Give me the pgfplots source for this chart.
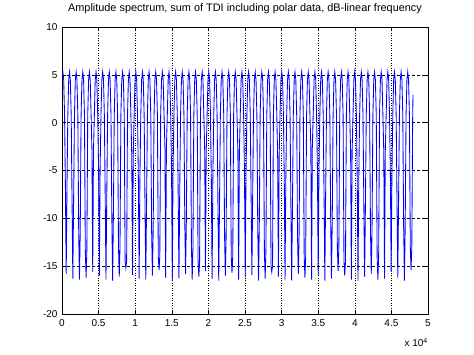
\documentclass[border=0pt]{standalone}
\usepackage{pgfplots}
\pgfplotsset{compat=1.18}
\usepackage{fontspec}
\setmainfont{Liberation Sans}
\begin{document}
\begin{tikzpicture}[x=1pt,y=1pt]
\useasboundingbox (0,0) rectangle (474,355);
\begin{axis}[
  name=ax,
  at={(62pt,41pt)}, anchor=south west,
  width=366pt, height=287pt, scale only axis,
  xmin=0, xmax=50000, ymin=-20, ymax=10,
  xtick={0,5000,10000,15000,20000,25000,30000,35000,40000,45000,50000},
  xticklabels={0,0.5,1,1.5,2,2.5,3,3.5,4,4.5,5},
  scaled x ticks=false,
  ytick={-20,-15,-10,-5,0,5,10},
  grid=major,
  x grid style={black, dash pattern=on 1pt off 1.5pt, line width=0.5pt},
  y grid style={black, dash pattern=on 2.5pt off 2.5pt, line width=0.5pt},
  tick align=inside, tick style={black, line width=0.5pt},
  major tick length=4pt,
  axis line style={black, line width=0.6pt},
  ticklabel style={font=\fontsize{10}{12}\selectfont},
  xticklabel style={yshift=-2pt},
  yticklabel style={xshift=-1pt},
  /pgf/number format/assume math mode=true,
  title={Amplitude spectrum, sum of TDI including polar data, dB-linear frequency},
  title style={at={(0.5,1)}, anchor=base, yshift=9pt, font=\fontsize{10.9}{13}\selectfont},
]
\addplot[color={rgb,1:red,0;green,0;blue,1}, line width=0.85pt] coordinates {
(0,4.9)
(120,5.3) (230,4.5) (350,0.8) (470,-7) (573,-15.8) (676,-7) (796,0.8) (916,4.5)
(1026,5.3) (1136,4.5) (1256,0.8) (1376,-8.5) (1479,-16.3) (1582,-8.5) (1702,0.8) (1822,4.5)
(1932,5.3) (2042,4.5) (2162,0.8) (2282,-11.5) (2385,-16.4) (2488,-11.5) (2608,0.8) (2728,4.5)
(2838,5.3) (2948,4.5) (3068,0.8) (3188,-13.5) (3291,-16.2) (3394,-13.5) (3514,0.8) (3634,4.5)
(3744,5.3) (3854,4.5) (3974,0.8) (4094,-3) (4197,-15.6) (4300,-3) (4420,0.8) (4540,4.5)
(4650,5.3) (4760,4.5) (4880,0.8) (5000,-5) (5103,-16.0) (5206,-5) (5326,0.8) (5446,4.5)
(5556,5.3) (5666,4.5) (5786,0.8) (5906,-8) (6009,-16.4) (6112,-8) (6232,0.8) (6352,4.5)
(6462,5.3) (6572,4.5) (6692,0.8) (6812,-10) (6915,-16.5) (7018,-10) (7138,0.8) (7258,4.5)
(7368,5.3) (7478,4.5) (7598,0.8) (7718,-13) (7821,-16.1) (7924,-13) (8044,0.8) (8164,4.5)
(8274,5.3) (8384,4.5) (8504,0.8) (8624,-14.5) (8727,-15.2) (8830,-14.5) (8950,0.8) (9070,4.5)
(9180,5.3) (9290,4.5) (9410,0.8) (9530,-3.5) (9633,-15.9) (9736,-3.5) (9856,0.8) (9976,4.5)
(10086,5.3) (10196,4.5) (10316,0.8) (10436,-6) (10539,-16.3) (10642,-6) (10762,0.8) (10882,4.5)
(10992,5.3) (11102,4.5) (11222,0.8) (11342,-9) (11445,-16.4) (11548,-9) (11668,0.8) (11788,4.5)
(11898,5.3) (12008,4.5) (12128,0.8) (12248,-11.5) (12351,-16.0) (12454,-11.5) (12574,0.8) (12694,4.5)
(12804,5.3) (12914,4.5) (13034,0.8) (13154,-14) (13257,-15.4) (13360,-14) (13480,0.8) (13600,4.5)
(13710,5.3) (13820,4.5) (13940,0.8) (14060,-2.5) (14163,-16.2) (14266,-2.5) (14386,0.8) (14506,4.5)
(14616,5.3) (14726,4.5) (14846,0.8) (14966,-5) (15069,-16.5) (15172,-5) (15292,0.8) (15412,4.5)
(15522,5.3) (15632,4.5) (15752,0.8) (15872,-7.5) (15975,-16.3) (16078,-7.5) (16198,0.8) (16318,4.5)
(16428,5.3) (16538,4.5) (16658,0.8) (16778,-10.5) (16881,-15.8) (16984,-10.5) (17104,0.8) (17224,4.5)
(17334,5.3) (17444,4.5) (17564,0.8) (17684,-13) (17787,-16.4) (17890,-13) (18010,0.8) (18130,4.5)
(18240,5.3) (18350,4.5) (18470,0.8) (18590,-14.5) (18693,-16.1) (18796,-14.5) (18916,0.8) (19036,4.5)
(19146,5.3) (19256,4.5) (19376,0.8) (19496,-3) (19599,-15.5) (19702,-3) (19822,0.8) (19942,4.5)
(20052,5.3) (20162,4.5) (20282,0.8) (20402,-6) (20505,-16.3) (20608,-6) (20728,0.8) (20848,4.5)
(20958,5.3) (21068,4.5) (21188,0.8) (21308,-9) (21411,-16.5) (21514,-9) (21634,0.8) (21754,4.5)
(21864,5.3) (21974,4.5) (22094,0.8) (22214,-12) (22317,-16.0) (22420,-12) (22540,0.8) (22660,4.5)
(22770,5.3) (22880,4.5) (23000,0.8) (23120,-14) (23223,-15.7) (23326,-14) (23446,0.8) (23566,4.5)
(23676,5.3) (23786,4.5) (23906,0.8) (24026,-3) (24129,-16.4) (24232,-3) (24352,0.8) (24472,4.5)
(24582,5.3) (24692,4.5) (24812,0.8) (24932,-5.5) (25035,-16.2) (25138,-5.5) (25258,0.8) (25378,4.5)
(25488,5.3) (25598,4.5) (25718,0.8) (25838,-8) (25941,-15.9) (26044,-8) (26164,0.8) (26284,4.5)
(26394,5.3) (26504,4.5) (26624,0.8) (26744,-11) (26847,-16.5) (26950,-11) (27070,0.8) (27190,4.5)
(27300,5.3) (27410,4.5) (27530,0.8) (27650,-13.5) (27753,-16.3) (27856,-13.5) (27976,0.8) (28096,4.5)
(28206,5.3) (28316,4.5) (28436,0.8) (28556,-15) (28659,-15.6) (28762,-15) (28882,0.8) (29002,4.5)
(29112,5.3) (29222,4.5) (29342,0.8) (29462,-3.5) (29565,-16.1) (29668,-3.5) (29788,0.8) (29908,4.5)
(30018,5.3) (30128,4.5) (30248,0.8) (30368,-6) (30471,-16.4) (30574,-6) (30694,0.8) (30814,4.5)
(30924,5.3) (31034,4.5) (31154,0.8) (31274,-9) (31377,-16.5) (31480,-9) (31600,0.8) (31720,4.5)
(31830,5.3) (31940,4.5) (32060,0.8) (32180,-12) (32283,-15.8) (32386,-12) (32506,0.8) (32626,4.5)
(32736,5.3) (32846,4.5) (32966,0.8) (33086,-14) (33189,-16.2) (33292,-14) (33412,0.8) (33532,4.5)
(33642,5.3) (33752,4.5) (33872,0.8) (33992,-2.5) (34095,-16.4) (34198,-2.5) (34318,0.8) (34438,4.5)
(34548,5.3) (34658,4.5) (34778,0.8) (34898,-5) (35001,-15.9) (35104,-5) (35224,0.8) (35344,4.5)
(35454,5.3) (35564,4.5) (35684,0.8) (35804,-8) (35907,-16.5) (36010,-8) (36130,0.8) (36250,4.5)
(36360,5.3) (36470,4.5) (36590,0.8) (36710,-10.5) (36813,-16.3) (36916,-10.5) (37036,0.8) (37156,4.5)
(37266,5.3) (37376,4.5) (37496,0.8) (37616,-13) (37719,-15.5) (37822,-13) (37942,0.8) (38062,4.5)
(38172,5.3) (38282,4.5) (38402,0.8) (38522,-14.5) (38625,-16.0) (38728,-14.5) (38848,0.8) (38968,4.5)
(39078,5.3) (39188,4.5) (39308,0.8) (39428,-3) (39531,-16.4) (39634,-3) (39754,0.8) (39874,4.5)
(39984,5.3) (40094,4.5) (40214,0.8) (40334,-6) (40437,-16.5) (40540,-6) (40660,0.8) (40780,4.5)
(40890,5.3) (41000,4.5) (41120,0.8) (41240,-9) (41343,-16.1) (41446,-9) (41566,0.8) (41686,4.5)
(41796,5.3) (41906,4.5) (42026,0.8) (42146,-11.5) (42249,-15.8) (42352,-11.5) (42472,0.8) (42592,4.5)
(42702,5.3) (42812,4.5) (42932,0.8) (43052,-14) (43155,-16.4) (43258,-14) (43378,0.8) (43498,4.5)
(43608,5.3) (43718,4.5) (43838,0.8) (43958,-3) (44061,-16.3) (44164,-3) (44284,0.8) (44404,4.5)
(44514,5.3) (44624,4.5) (44744,0.8) (44864,-5.5) (44967,-15.6) (45070,-5.5) (45190,0.8) (45310,4.5)
(45420,5.3) (45530,4.5) (45650,0.8) (45770,-8.5) (45873,-16.2) (45976,-8.5) (46096,0.8) (46216,4.5)
(46326,5.3) (46436,4.5) (46556,0.8) (46676,-11) (46779,-16.5) (46882,-11) (47002,0.8) (47122,4.5)
(47232,5.3) (47342,4.5) (47462,0.8) (47582,-13) (47685,-15.4) (47788,-13) (47908,0.8) (47950,2.9)
};
\end{axis}
\node[anchor=base east, font=\fontsize{10}{12}\selectfont, inner sep=0pt] at (428,8) {x 10\textsuperscript{4}};
\end{tikzpicture}
\end{document}
